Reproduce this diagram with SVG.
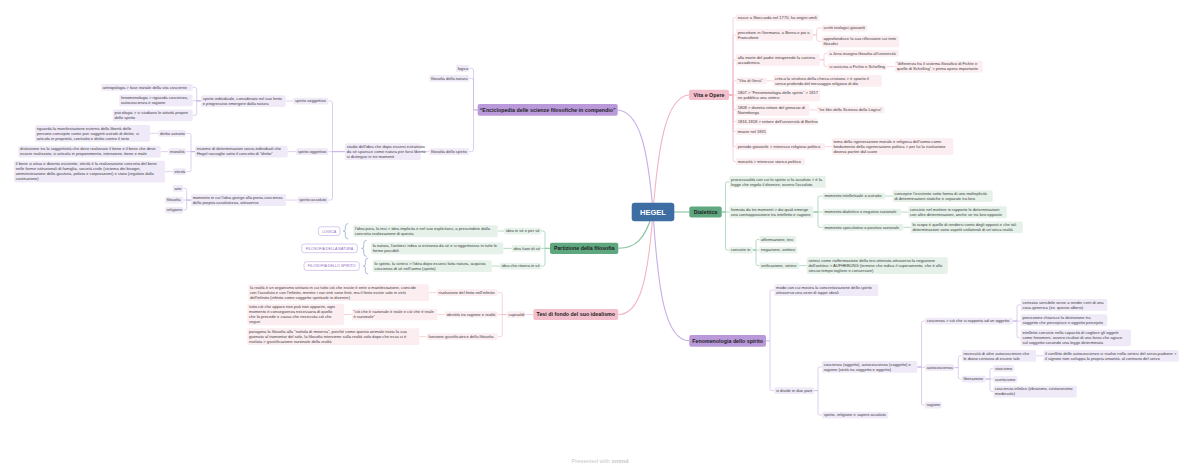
<svg xmlns="http://www.w3.org/2000/svg" width="1200" height="468" viewBox="0 0 1200 468">
<style>
text{font-family:"Liberation Sans",Arial,sans-serif}
.t{font-size:4.1px;fill:#3d3d3d}
.m{font-size:5.3px;font-weight:bold;fill:#222;text-anchor:middle}
.bp{fill:#fcedf1}
.bg{fill:#e5f1e9}
.bv{fill:#f0eaf8}
.mp{fill:#f4bfcc}
.mg{fill:#5fa77f}
.mv{fill:#b999da}
.cp,.cg,.cv,.br{fill:none;stroke-width:0.6}
.cp{stroke:#f1b6c5}
.cg{stroke:#84c29f}
.cv{stroke:#c7aee6}
.br{stroke:#7391c2;stroke-width:0.6}
.w{stroke-width:1.1}
.tag{fill:#fff;stroke:#b695dc;stroke-width:0.5}
.tt{font-size:3.7px;fill:#8f6cc0;text-anchor:middle}
</style>
<rect width="1200" height="468" fill="#fff"/>
<g id="connectors">
<path class="cv w" d="M653 212 C648 150 640 112 617.7 110"/>
<path class="cp w" d="M653 212 C658 150 665 97 689 95"/>
<path class="cg w" d="M653 212 C645 240 635 248.3 618.3 248.3"/>
<path class="cg w" d="M674 212 H689.3"/>
<path class="cp w" d="M653 212 C648 280 640 314.5 618.3 314.5"/>
<path class="cv w" d="M653 212 C658 290 665 340.8 689.3 340.8"/>
<!-- Vita e Opere -->
<path class="cp" d="M729 95 H733 V19.65 Q733 17.65 735 17.65 H736"/>
<path class="cp" d="M729 95 H733 V36.85 Q733 34.85 735 34.85 H736"/>
<path class="cp" d="M729 95 H733 V61.85 Q733 59.85 735 59.85 H736"/>
<path class="cp" d="M729 95 H733 V82.85 Q733 80.85 735 80.85 H736"/>
<path class="cp" d="M729 95 H736"/>
<path class="cp" d="M729 95 H733 V107.85 Q733 109.85 735 109.85 H736"/>
<path class="cp" d="M729 95 H733 V119.65 Q733 121.65 735 121.65 H736"/>
<path class="cp" d="M729 95 H733 V129.65 Q733 131.65 735 131.65 H736"/>
<path class="cp" d="M729 95 H733 V144.65 Q733 146.65 735 146.65 H736"/>
<path class="cp" d="M729 95 H733 V159.65 Q733 161.65 735 161.65 H736"/>
<path class="cp" d="M813 34.85 H816.7 V30.05 Q816.7 28.05 818.7 28.05 H821.7"/>
<path class="cp" d="M813 34.85 H816.7 V39.35 Q816.7 41.35 818.7 41.35 H821.7"/>
<path class="cp" d="M820 59.85 H824 V55.35 Q824 53.35 826 53.35 H827.7"/>
<path class="cp" d="M820 59.85 H824 V64.65 Q824 66.65 826 66.65 H827.7"/>
<path class="cp" d="M886.7 66.6 H895"/>
<path class="cp" d="M766.7 80.85 H773.3"/>
<path class="cp" d="M809.3 109.85 H816.7"/>
<path class="cp" d="M825 146.65 H831.7"/>
<!-- Dialettica -->
<path class="cg" d="M721.7 212 H725.5 V183.85 Q725.5 181.85 727.5 181.85 H729.3"/>
<path class="cg" d="M721.7 212 H729.3"/>
<path class="cg" d="M721.7 212 H725.5 V248.05 Q725.5 250.05 727.5 250.05 H729.3"/>
<path class="cg" d="M813.3 212.05 H818 V198.05 Q818 196.05 820 196.05 H822.7"/>
<path class="cg" d="M813.3 212.05 H822.7"/>
<path class="cg" d="M813.3 212.05 H818 V225.35 Q818 227.35 820 227.35 H822.7"/>
<path class="cg" d="M885 196.05 H892.7"/>
<path class="cg" d="M901 212.05 H908.3"/>
<path class="cg" d="M903.3 227.35 H910.7"/>
<path class="cg" d="M752.7 250.05 H756 V241.35 Q756 239.35 758 239.35 H759.3"/>
<path class="cg" d="M752.7 250.05 H759.3"/>
<path class="cg" d="M752.7 250.05 H756 V263.65 Q756 265.65 758 265.65 H759.3"/>
<path class="cg" d="M799 265.65 H806.7"/>
<!-- Fenomenologia -->
<path class="cv" d="M766 340.85 H770 V292.15 Q770 290.15 772 290.15 H774.3"/>
<path class="cv" d="M766 340.85 H770 V388.65 Q770 390.65 772 390.65 H774.3"/>
<path class="cv" d="M814 390.65 H818 V368.85 Q818 366.85 820 366.85 H822"/>
<path class="cv" d="M814 390.65 H818 V413.05 Q818 415.05 820 415.05 H822"/>
<path class="cv" d="M917.3 366.85 H921.5 V323.05 Q921.5 321.05 923.5 321.05 H925"/>
<path class="cv" d="M917.3 367.3 H925"/>
<path class="cv" d="M917.3 366.85 H921.5 V403.05 Q921.5 405.05 923.5 405.05 H925"/>
<path class="cv" d="M1012.7 321.05 H1017 V306.85 Q1017 304.85 1019 304.85 H1020.7"/>
<path class="cv" d="M1012.7 321.05 H1020.7"/>
<path class="cv" d="M1012.7 321.05 H1017 V335.85 Q1017 337.85 1019 337.85 H1020.7"/>
<path class="cv" d="M954.3 367.65 H958.3 V357.85 Q958.3 355.85 960.3 355.85 H961.7"/>
<path class="cv" d="M954.3 367.65 H958.3 V377.05 Q958.3 379.05 960.3 379.05 H961.7"/>
<path class="cv" d="M1036 355.85 H1043.3"/>
<path class="cv" d="M985.7 379.05 H990 V370.35 Q990 368.35 992 368.35 H993.3"/>
<path class="cv" d="M985.7 379.05 H993.3"/>
<path class="cv" d="M985.7 379.05 H990 V389.55 Q990 391.55 992 391.55 H993.3"/>
<!-- Enciclopedia -->
<path class="cv" d="M477.7 109.85 H473.5 V70.35 Q473.5 68.35 471.5 68.35 H469"/>
<path class="cv" d="M477.7 109.85 H473.5 V80.35 Q473.5 78.35 471.5 78.35 H469"/>
<path class="cv" d="M477.7 109.85 H473.5 V149.65 Q473.5 151.65 471.5 151.65 H469"/>
<path class="cv" d="M429.3 151.65 H420.7"/>
<path class="cv" d="M345 151.65 H332.5 V103.05 Q332.5 101.05 330.5 101.05 H328.3"/>
<path class="cv" d="M345 151.65 H328.3"/>
<path class="cv" d="M345 151.65 H332.5 V198.05 Q332.5 200.05 330.5 200.05 H328.3"/>
<path class="cv" d="M293.3 101.05 H285.7"/>
<path class="cv" d="M201 101.05 H196.7 V89.35 Q196.7 87.35 194.7 87.35 H192.7"/>
<path class="cv" d="M201 100.7 H192.7"/>
<path class="cv" d="M201 101.05 H196.7 V113.35 Q196.7 115.35 194.7 115.35 H192.7"/>
<path class="cv" d="M296 151.65 H287.7"/>
<path class="cv" d="M195 151.65 H191 V135.35 Q191 133.35 189 133.35 H186"/>
<path class="cv" d="M195 151.65 H186"/>
<path class="cv" d="M195 151.65 H191 V169.65 Q191 171.65 189 171.65 H186"/>
<path class="cv" d="M158.3 133.35 H150"/>
<path class="cv" d="M168.3 151.65 H160.7"/>
<path class="cv" d="M172.7 171.65 H165"/>
<path class="cv" d="M297.3 200.05 H286"/>
<path class="cv" d="M191 200.05 H186.7 V190.35 Q186.7 188.35 184.7 188.35 H183.3"/>
<path class="cv" d="M191 200.05 H183.3"/>
<path class="cv" d="M191 200.05 H186.7 V208.05 Q186.7 210.05 184.7 210.05 H183.3"/>
<!-- Partizione -->
<path class="cg" d="M550 248.35 H545 V233.05 Q545 231.05 543 231.05 H541"/>
<path class="cg" d="M550 248.35 H541"/>
<path class="cg" d="M550 248.35 H545 V264.05 Q545 266.05 543 266.05 H541"/>
<path class="cg" d="M504.3 231.05 H497.7"/>
<path class="cg" d="M511.7 248.35 H503.3"/>
<path class="cg" d="M500 266.05 H491.7"/>
<path class="br" d="M348.3 223.5 Q345.3 223.5 345.3 227 V229.5 Q345.3 231.05 343.3 231.05 Q345.3 231.05 345.3 232.6 V235.5 Q345.3 239 348.3 239"/>
<path class="br" d="M366.7 240.3 Q363.7 240.3 363.7 243.8 V246.8 Q363.7 248.35 361.7 248.35 Q363.7 248.35 363.7 249.9 V252.9 Q363.7 256.4 366.7 256.4"/>
<path class="br" d="M368.3 258 Q365.3 258 365.3 261.5 V264.5 Q365.3 266.05 363.3 266.05 Q365.3 266.05 365.3 267.6 V270.6 Q365.3 274.1 368.3 274.1"/>
<!-- Tesi -->
<path class="cp" d="M533.3 314.5 H525"/>
<path class="cp" d="M506.7 314.5 H502.3 V294.65 Q502.3 292.65 500.3 292.65 H497.7"/>
<path class="cp" d="M506.7 314.5 H497.7"/>
<path class="cp" d="M506.7 314.5 H502.3 V334.65 Q502.3 336.65 500.3 336.65 H497.7"/>
<path class="cp" d="M436.7 292.65 H429"/>
<path class="cp" d="M445 314.5 H437.3"/>
<path class="cp" d="M351.7 314.5 H344"/>
<path class="cp" d="M426.7 336.65 H419.3"/>
</g>
<g id="hegel"><rect x="631.7" y="202.7" width="42.6" height="18.6" rx="3" fill="#3d6ea3"/><text x="653" y="214.8" font-size="7.5" font-weight="bold" fill="#fff" text-anchor="middle">HEGEL</text></g>
<g id="vita-opere"><rect class="mp" x="689" y="89.7" width="40" height="10.3" rx="2"/><text class="m" x="709" y="96.9">Vita e Opere</text></g>
<g id="dialettica"><rect class="mg" x="689.3" y="206.4" width="32.4" height="11.2" rx="2"/><text class="m" x="705.5" y="213.9">Dialettica</text></g>
<g id="fenomenologia"><rect class="mv" x="689.3" y="335" width="76.7" height="11.7" rx="2"/><text class="m" x="727.6" y="342.7">Fenomenologia dello spirito</text></g>
<g id="enciclopedia"><rect class="mv" x="477.7" y="104" width="140" height="11.7" rx="2"/><text class="m" x="547.7" y="111.8">“Enciclopedia delle scienze filosofiche in compendio”</text></g>
<g id="partizione"><rect class="mg" x="550" y="242.7" width="68.3" height="11.3" rx="2"/><text class="m" x="584.2" y="250.2">Partizione della filosofia</text></g>
<g id="tesi"><rect class="mp" x="533.3" y="309" width="85" height="11" rx="2"/><text class="m" x="575.8" y="316.4">Tesi di fondo del suo idealismo</text></g>

<g id="v1"><rect class="bp" x="736" y="14.3" width="83.3" height="6.7" rx="1.5"/><text class="t" x="737.7" y="18.9">nasce a Stoccarda nel 1770, ha origini umili</text></g>
<g id="v2"><rect class="bp" x="736" y="29" width="77" height="11.7" rx="1.5"/><text class="t" x="737.7" y="33.6">precettore in Germania, a Berna e poi a<tspan x="737.7" dy="5">Francoforte</tspan></text></g>
<g id="v2a"><rect class="bp" x="821.7" y="24.7" width="45.6" height="6.7" rx="1.5"/><text class="t" x="823.4" y="29.3">scritti teologici giovanili</text></g>
<g id="v2b"><rect class="bp" x="821.7" y="35.5" width="77.3" height="11.7" rx="1.5"/><text class="t" x="823.4" y="40.1">approfondisce la sua riflessione sui temi<tspan x="823.4" dy="5">filosofici</tspan></text></g>
<g id="v3"><rect class="bp" x="736" y="54" width="84" height="11.7" rx="1.5"/><text class="t" x="737.7" y="58.6">alla morte del padre intraprende la carriera<tspan x="737.7" dy="5">accademica</tspan></text></g>
<g id="v3a"><rect class="bp" x="827.7" y="50" width="71.3" height="6.7" rx="1.5"/><text class="t" x="829.4" y="54.6">a Jena insegna filosofia all'università</text></g>
<g id="v3b"><rect class="bp" x="827.7" y="63.3" width="59" height="6.7" rx="1.5"/><text class="t" x="829.4" y="67.9">si avvicina a Fichte e Schelling</text></g>
<g id="v3b1"><rect class="bp" x="895" y="60.7" width="87.7" height="11.7" rx="1.5"/><text class="t" x="896.7" y="65.3">“differenza fra il sistema filosofico di Fichte e<tspan x="896.7" dy="5">quello di Schelling” &gt; prima opera importante</tspan></text></g>
<g id="v4"><rect class="bp" x="736" y="77.5" width="30.7" height="6.7" rx="1.5"/><text class="t" x="737.7" y="82.1">“Vita di Gesù”</text></g>
<g id="v4a"><rect class="bp" x="773.3" y="75" width="108.4" height="11.7" rx="1.5"/><text class="t" x="775" y="79.6">critica la struttura della chiesa cristiana &gt; è sparito il<tspan x="775" dy="5">senso profondo del messaggio religioso di dio</tspan></text></g>
<g id="v5"><rect class="bp" x="736" y="89.5" width="84" height="11.7" rx="1.5"/><text class="t" x="737.7" y="94.1">1807 &gt; “Fenomenologia dello spirito” &gt; 1817<tspan x="737.7" dy="5">ne pubblica una sintesi</tspan></text></g>
<g id="v6"><rect class="bp" x="736" y="104" width="73.3" height="11.7" rx="1.5"/><text class="t" x="737.7" y="108.6">1808 &gt; diventa rettore del ginnasio di<tspan x="737.7" dy="5">Norimberga</tspan></text></g>
<g id="v6a"><rect class="bp" x="816.7" y="106.5" width="67.6" height="6.7" rx="1.5"/><text class="t" x="818.4" y="111.1">“tre libri della Scienza della Logica”</text></g>
<g id="v7"><rect class="bp" x="736" y="118.3" width="81.7" height="6.7" rx="1.5"/><text class="t" x="737.7" y="122.9">1816-1818 &gt; rettore dell'università di Berlino</text></g>
<g id="v8"><rect class="bp" x="736" y="128.3" width="31.3" height="6.7" rx="1.5"/><text class="t" x="737.7" y="132.9">muore nel 1831</text></g>
<g id="v9"><rect class="bp" x="736" y="143.3" width="89" height="6.7" rx="1.5"/><text class="t" x="737.7" y="147.9">periodo giovanile &gt; interesse religioso politico</text></g>
<g id="v9a"><rect class="bp" x="831.7" y="138.3" width="121.6" height="16.7" rx="1.5"/><text class="t" x="833.4" y="142.9">tema della rigenerazione morale e religiosa dell'uomo come<tspan x="833.4" dy="5">fondamento della rigenerazione politica &gt; per lui la rivoluzione</tspan><tspan x="833.4" dy="5">doveva partire dal cuore</tspan></text></g>
<g id="v10"><rect class="bp" x="736" y="158.3" width="69" height="6.7" rx="1.5"/><text class="t" x="737.7" y="162.9">maturità &gt; interesse storico politico</text></g>

<g id="d1"><rect class="bg" x="729.3" y="176" width="96.4" height="11.7" rx="1.5"/><text class="t" x="731" y="180.6">processualità con cui lo spirito si fa assoluto &gt; è la<tspan x="731" dy="5">legge che regola il divenire, ovvero l'assoluto</tspan></text></g>
<g id="d2"><rect class="bg" x="729.3" y="206.2" width="84" height="11.7" rx="1.5"/><text class="t" x="731" y="210.8">formata da tre momenti &gt; dai quali emerge<tspan x="731" dy="5">una contrapposizione tra intelletto e ragione</tspan></text></g>
<g id="d2a"><rect class="bg" x="822.7" y="192.7" width="62.3" height="6.7" rx="1.5"/><text class="t" x="824.4" y="197.3">momento intellettuale o astratto</text></g>
<g id="d2a1"><rect class="bg" x="892.7" y="190.2" width="100" height="11.7" rx="1.5"/><text class="t" x="894.4" y="194.8">concepire l'esistente sotto forma di una molteplicità<tspan x="894.4" dy="5">di determinazioni statiche e separate tra loro</tspan></text></g>
<g id="d2b"><rect class="bg" x="822.7" y="208.7" width="78.3" height="6.7" rx="1.5"/><text class="t" x="824.4" y="213.3">momento dialettico o negativo razionale</text></g>
<g id="d2b1"><rect class="bg" x="908.3" y="206.2" width="98.4" height="11.7" rx="1.5"/><text class="t" x="910" y="210.8">consiste nel mettere in rapporto le determinazioni<tspan x="910" dy="5">con altre determinazioni, anche se tra loro opposte</tspan></text></g>
<g id="d2c"><rect class="bg" x="822.7" y="224" width="80.6" height="6.7" rx="1.5"/><text class="t" x="824.4" y="228.6">momento speculativo o positivo razionale</text></g>
<g id="d2c1"><rect class="bg" x="910.7" y="221.5" width="112" height="11.7" rx="1.5"/><text class="t" x="912.4" y="226.1">lo scopo è quello di rendersi conto degli opposti e che tali<tspan x="912.4" dy="5">determinazioni sono aspetti unilaterali di un'unica realtà</tspan></text></g>
<g id="d3"><rect class="bg" x="729.3" y="246.7" width="23.4" height="6.7" rx="1.5"/><text class="t" x="731" y="251.3">consiste in</text></g>
<g id="d3a"><rect class="bg" x="759.3" y="236" width="36.7" height="6.7" rx="1.5"/><text class="t" x="761" y="240.6">affermazione, tesi</text></g>
<g id="d3b"><rect class="bg" x="759.3" y="246.7" width="38" height="6.7" rx="1.5"/><text class="t" x="761" y="251.3">negazione, antitesi</text></g>
<g id="d3c"><rect class="bg" x="759.3" y="262.3" width="39.7" height="6.7" rx="1.5"/><text class="t" x="761" y="266.9">unificazione, sintesi</text></g>
<g id="d3c1"><rect class="bg" x="806.7" y="257.3" width="141" height="16.7" rx="1.5"/><text class="t" x="808.4" y="261.9">sintesi come riaffermazione della tesi ottenuta attraverso la negazione<tspan x="808.4" dy="5">dell'antitesi &gt; AUFHEBUNG (termine che indica il superamento, che è allo</tspan><tspan x="808.4" dy="5">stesso tempo togliere e conservare)</tspan></text></g>

<g id="f1"><rect class="bv" x="774.3" y="284.3" width="104" height="11.7" rx="1.5"/><text class="t" x="776" y="288.9">modo con cui mostra la concretizzazione dello spirito<tspan x="776" dy="5">attraverso una serie di tappe ideali</tspan></text></g>
<g id="f2"><rect class="bv" x="774.3" y="387.3" width="39.7" height="6.7" rx="1.5"/><text class="t" x="776" y="391.9">si divide in due parti</text></g>
<g id="f2a"><rect class="bv" x="822" y="361" width="95.3" height="11.7" rx="1.5"/><text class="t" x="823.7" y="365.6">coscienza (oggetto), autocoscienza (soggetto) e<tspan x="823.7" dy="5">ragione (unità tra soggetto e oggetto)</tspan></text></g>
<g id="f2b"><rect class="bv" x="822" y="411.7" width="66.3" height="6.7" rx="1.5"/><text class="t" x="823.7" y="416.3">spirito, religione e sapere assoluto</text></g>
<g id="f3"><rect class="bv" x="925" y="317.7" width="87.7" height="6.7" rx="1.5"/><text class="t" x="926.7" y="322.3">coscienza &gt; ciò che si rapporta ad un oggetto</text></g>
<g id="f3a"><rect class="bv" x="1020.7" y="299" width="86.6" height="11.7" rx="1.5"/><text class="t" x="1022.4" y="303.6">certezza sensibile serve a render certi di una<tspan x="1022.4" dy="5">cosa generica (ex. questo albero)</tspan></text></g>
<g id="f3b"><rect class="bv" x="1020.7" y="314.3" width="86.6" height="11.7" rx="1.5"/><text class="t" x="1022.4" y="318.9">percezione chiarisce la distinzione tra<tspan x="1022.4" dy="5">soggetto che percepisce e oggetto percepito</tspan></text></g>
<g id="f3c"><rect class="bv" x="1020.7" y="329.5" width="110.3" height="16.7" rx="1.5"/><text class="t" x="1022.4" y="334.1">intelletto consiste nella capacità di cogliere gli oggetti<tspan x="1022.4" dy="5">come fenomeni, ovvero risultati di una forza che agisce</tspan><tspan x="1022.4" dy="5">sul soggetto secondo una legge determinata</tspan></text></g>
<g id="f4"><rect class="bv" x="925" y="364.3" width="29.3" height="6.7" rx="1.5"/><text class="t" x="926.7" y="368.9">autocoscienza</text></g>
<g id="f4a"><rect class="bv" x="961.7" y="350" width="74.3" height="11.7" rx="1.5"/><text class="t" x="963.4" y="354.6">necessità di altre autocoscienze che<tspan x="963.4" dy="5">le diano certezza di essere tale</tspan></text></g>
<g id="f4a1"><rect class="bv" x="1043.3" y="350" width="135.5" height="11.7" rx="1.5"/><text class="t" x="1045" y="354.6">il conflitto delle autocoscienze si risolve nella sintesi del servo-padrone &gt;<tspan x="1045" dy="5">il signore non sviluppa la propria umanità, al contrario del servo</tspan></text></g>
<g id="f4b"><rect class="bv" x="961.7" y="375.7" width="24" height="6.7" rx="1.5"/><text class="t" x="963.4" y="380.3">liberazione</text></g>
<g id="f4b1"><rect class="bv" x="993.3" y="365" width="20.7" height="6.7" rx="1.5"/><text class="t" x="995" y="369.6">stoicismo</text></g>
<g id="f4b2"><rect class="bv" x="993.3" y="376" width="24" height="6.7" rx="1.5"/><text class="t" x="995" y="380.6">scetticismo</text></g>
<g id="f4b3"><rect class="bv" x="993.3" y="385.7" width="83.4" height="11.7" rx="1.5"/><text class="t" x="995" y="390.3">coscienza infelice (ebraismo, cristianesimo<tspan x="995" dy="5">medievale)</tspan></text></g>
<g id="f5"><rect class="bv" x="925" y="401.7" width="16.7" height="6.7" rx="1.5"/><text class="t" x="926.7" y="406.3">ragione</text></g>

<g id="e1"><rect class="bv" x="456" y="65" width="13" height="6.7" rx="1.5"/><text class="t" x="457.7" y="69.6">logica</text></g>
<g id="e2"><rect class="bv" x="429.3" y="75" width="39.7" height="6.7" rx="1.5"/><text class="t" x="431" y="79.6">filosofia della natura</text></g>
<g id="e3"><rect class="bv" x="429.3" y="148.3" width="39.7" height="6.7" rx="1.5"/><text class="t" x="431" y="152.9">filosofia dello spirito</text></g>
<g id="e3a"><rect class="bv" x="345" y="143.3" width="75.7" height="16.7" rx="1.5"/><text class="t" x="346.7" y="147.9">studio dell'idea che dopo essersi estraniata<tspan x="346.7" dy="5">da sé sparisce come natura per farsi libertà;</tspan><tspan x="346.7" dy="5">si distingue in tre momenti</tspan></text></g>
<g id="s1"><rect class="bv" x="293.3" y="97.7" width="35" height="6.7" rx="1.5"/><text class="t" x="295" y="102.3">spirito soggettivo</text></g>
<g id="s1a"><rect class="bv" x="201" y="95.2" width="84.7" height="11.7" rx="1.5"/><text class="t" x="202.7" y="99.8">spirito individuale, considerato nel suo lento<tspan x="202.7" dy="5">e progressivo emergere dalla natura</tspan></text></g>
<g id="s1a1"><rect class="bv" x="101" y="84" width="91.7" height="6.7" rx="1.5"/><text class="t" x="102.7" y="88.6">antropologia &gt; fase iniziale della vita cosciente</text></g>
<g id="s1a2"><rect class="bv" x="119.3" y="94.5" width="73.4" height="11.7" rx="1.5"/><text class="t" x="121" y="99.1">fenomenologia &gt; riguarda coscienza,<tspan x="121" dy="5">autocoscienza e ragione</tspan></text></g>
<g id="s1a3"><rect class="bv" x="112.7" y="109.5" width="80" height="11.7" rx="1.5"/><text class="t" x="114.4" y="114.1">psicologia &gt; si studiano le attività proprie<tspan x="114.4" dy="5">dello spirito</tspan></text></g>
<g id="s2"><rect class="bv" x="296" y="148.3" width="32.3" height="6.7" rx="1.5"/><text class="t" x="297.7" y="152.9">spirito oggettivo</text></g>
<g id="s2a"><rect class="bv" x="195" y="145.8" width="92.7" height="11.7" rx="1.5"/><text class="t" x="196.7" y="150.4">insieme di determinazioni sovra-individuali che<tspan x="196.7" dy="5">Hegel raccoglie sotto il concetto di “diritto”</tspan></text></g>
<g id="s2a1"><rect class="bv" x="158.3" y="130" width="27.7" height="6.7" rx="1.5"/><text class="t" x="160" y="134.6">diritto astratto</text></g>
<g id="s2a1a"><rect class="bv" x="35" y="125" width="115" height="16.7" rx="1.5"/><text class="t" x="36.7" y="129.6">riguarda la manifestazione esterna della libertà delle<tspan x="36.7" dy="5">persone concepite come puri soggetti astratti di diritto; si</tspan><tspan x="36.7" dy="5">articola in proprietà, contratto e diritto contro il torto</tspan></text></g>
<g id="s2a2"><rect class="bv" x="168.3" y="148.3" width="17.7" height="6.7" rx="1.5"/><text class="t" x="170" y="152.9">moralità</text></g>
<g id="s2a2a"><rect class="bv" x="18.3" y="145.8" width="142.4" height="11.7" rx="1.5"/><text class="t" x="20" y="150.4">distinzione tra la soggettività che deve realizzare il bene e il bene che deve<tspan x="20" dy="5">essere realizzato; si articola in proponimento, intenzione, bene e male</tspan></text></g>
<g id="s2a3"><rect class="bv" x="172.7" y="168.3" width="13.3" height="6.7" rx="1.5"/><text class="t" x="174.4" y="172.9">eticità</text></g>
<g id="s2a3a"><rect class="bv" x="14" y="160.8" width="151" height="21.7" rx="1.5"/><text class="t" x="15.7" y="165.4">il bene si attua e diventa esistente, eticità è la realizzazione concreta del bene<tspan x="15.7" dy="5">nelle forme istituzionali di famiglia, società civile (sistema dei bisogni,</tspan><tspan x="15.7" dy="5">amministrazione della giustizia, polizia e corporazioni) e stato (regolato dalla</tspan><tspan x="15.7" dy="5">costituzione)</tspan></text></g>
<g id="s3"><rect class="bv" x="297.3" y="196.7" width="31" height="6.7" rx="1.5"/><text class="t" x="299" y="201.3">spirito assoluto</text></g>
<g id="s3a"><rect class="bv" x="191" y="194.2" width="95" height="11.7" rx="1.5"/><text class="t" x="192.7" y="198.8">momento in cui l'idea giunge alla piena coscienza<tspan x="192.7" dy="5">della propria assolutezza, attraverso</tspan></text></g>
<g id="s3a1"><rect class="bv" x="172.7" y="185" width="10.6" height="6.7" rx="1.5"/><text class="t" x="174.4" y="189.6">arte</text></g>
<g id="s3a2"><rect class="bv" x="165" y="196.7" width="18.3" height="6.7" rx="1.5"/><text class="t" x="166.7" y="201.3">filosofia</text></g>
<g id="s3a3"><rect class="bv" x="165" y="206.7" width="18.3" height="6.7" rx="1.5"/><text class="t" x="166.7" y="211.3">religione</text></g>

<g id="p1"><rect class="bg" x="504.3" y="227.7" width="36.7" height="6.7" rx="1.5"/><text class="t" x="506" y="232.3">idea in sé e per sé</text></g>
<g id="p1a"><rect class="bg" x="353.3" y="225.2" width="144.4" height="11.7" rx="1.5"/><text class="t" x="355" y="229.8">l'idea pura, la tesi &gt; idea implicita e nel suo esplicitarsi, a prescindere dalla<tspan x="355" dy="5">concreta realizzazione di questa</tspan></text></g>
<g id="p1b"><rect class="tag" x="318.3" y="226.8" width="21.7" height="8.7" rx="2.5"/><text class="tt" x="329.15" y="232.5">LOGICA</text></g>
<g id="p2"><rect class="bg" x="511.7" y="245" width="29.3" height="6.7" rx="1.5"/><text class="t" x="513.4" y="249.6">idea fuori di sé</text></g>
<g id="p2a"><rect class="bg" x="371" y="242.5" width="132.3" height="11.7" rx="1.5"/><text class="t" x="372.7" y="247.1">la natura, l'antitesi &gt;idea si estranea da sé e si oggettivizza in tutte le<tspan x="372.7" dy="5">forme possibili</tspan></text></g>
<g id="p2b"><rect class="tag" x="301.7" y="244" width="55.6" height="8.7" rx="2.5"/><text class="tt" x="329.5" y="249.7">FILOSOFIA DELLA NATURA</text></g>
<g id="p3"><rect class="bg" x="500" y="262.7" width="41" height="6.7" rx="1.5"/><text class="t" x="501.7" y="267.3">idea che ritorna in sé</text></g>
<g id="p3a"><rect class="bg" x="372.7" y="260.2" width="119" height="11.7" rx="1.5"/><text class="t" x="374.4" y="264.8">lo spirito, la sintesi &gt; l'idea dopo essersi fatta natura, acquista<tspan x="374.4" dy="5">coscienza di sé nell'uomo (spirito)</tspan></text></g>
<g id="p3b"><rect class="tag" x="304" y="261.7" width="55.3" height="8.7" rx="2.5"/><text class="tt" x="331.65" y="267.4">FILOSOFIA DELLO SPIRITO</text></g>

<g id="t0"><rect class="bp" x="506.7" y="311.15" width="18.3" height="6.7" rx="1.5"/><text class="t" x="508.4" y="315.75">capisaldi</text></g>
<g id="t1"><rect class="bp" x="436.7" y="289.3" width="61" height="6.7" rx="1.5"/><text class="t" x="438.4" y="293.9">risoluzione del finito nell'infinito</text></g>
<g id="t1a"><rect class="bp" x="248.3" y="284.3" width="180.7" height="16.7" rx="1.5"/><text class="t" x="250" y="288.9">la realtà è un organismo unitario in cui tutto ciò che esiste è ente o manifestazione, coincide<tspan x="250" dy="5">con l'assoluto e con l'infinito, mentre i vari enti sono finiti, ma il finito esiste solo in virtù</tspan><tspan x="250" dy="5">dell'infinito (infinito come soggetto spirituale in divenire)</tspan></text></g>
<g id="t2"><rect class="bp" x="445" y="311.15" width="52.7" height="6.7" rx="1.5"/><text class="t" x="446.7" y="315.75">identità tra ragione e realtà</text></g>
<g id="t2a"><rect class="bp" x="351.7" y="308.65" width="85.6" height="11.7" rx="1.5"/><text class="t" x="353.4" y="313.25">“ciò che è razionale è reale e ciò che è reale<tspan x="353.4" dy="5">è razionale”</tspan></text></g>
<g id="t2a1"><rect class="bp" x="247.3" y="303.65" width="96.7" height="21.7" rx="1.5"/><text class="t" x="249" y="308.25">tutto ciò che appare non può non apparire, ogni<tspan x="249" dy="5">momento è conseguenza necessaria di quello</tspan><tspan x="249" dy="5">che lo precede e causa che necessita ciò che</tspan><tspan x="249" dy="5">segue</tspan></text></g>
<g id="t3"><rect class="bp" x="426.7" y="333.3" width="71" height="6.7" rx="1.5"/><text class="t" x="428.4" y="337.9">funzione giustificatrice della filosofia</text></g>
<g id="t3a"><rect class="bp" x="247.3" y="328.3" width="172" height="16.7" rx="1.5"/><text class="t" x="249" y="332.9">paragona la filosofia alla “nottola di minerva”, perché come questo animale inizia la sua<tspan x="249" dy="5">giornata al tramontar del sole, la filosofia interviene sulla realtà solo dopo che essa si è</tspan><tspan x="249" dy="5">rivelata &gt; giustificazione razionale della realtà</tspan></text></g>

<text x="600" y="462.5" font-size="5.8" fill="#c8c8c8" text-anchor="middle">Presented with <tspan font-weight="bold">xmind</tspan></text>
</svg>
